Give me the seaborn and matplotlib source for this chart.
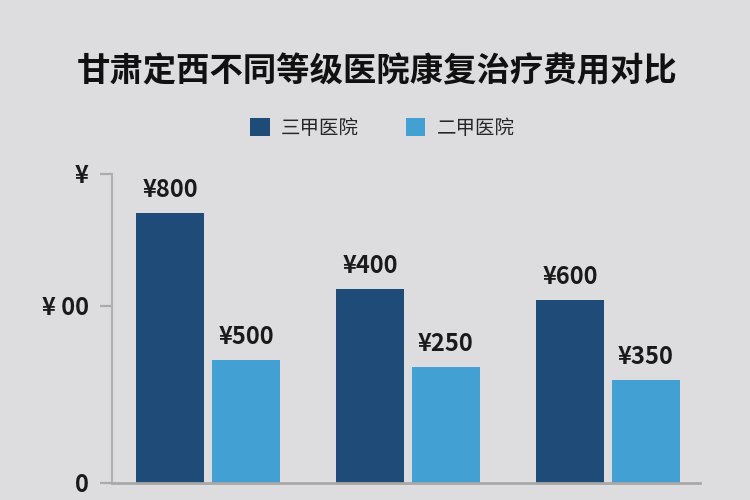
import matplotlib
matplotlib.use("Agg")
import matplotlib.pyplot as plt
import seaborn as sns
import pandas as pd

# data (bar heights in axis units, mid tick = 500)
groups = ["组1", "组2", "组3"]
grades = ["三甲医院", "二甲医院"]
heights_sanjia = [763, 548, 517]
heights_erjia = [347, 328, 291]
labels_sanjia = ["¥800", "¥400", "¥600"]
labels_erjia = ["¥500", "¥250", "¥350"]
ytick_pos = [0, 500, 873]
ytick_labels = ["0", "¥ 00", "¥"]
title = "甘肃定西不同等级医院康复治疗费用对比"

colors = {"三甲医院": "#1f4b78", "二甲医院": "#42a0d2"}
bg = "#dddddf"

df = pd.DataFrame({
    "group": groups * 2,
    "grade": [grades[0]] * 3 + [grades[1]] * 3,
    "value": heights_sanjia + heights_erjia,
    "label": labels_sanjia + labels_erjia,
})

sns.set_style("white")
plt.rcParams["font.family"] = ["Noto Sans CJK SC", "DejaVu Sans"]

fig = plt.figure(figsize=(7.5, 5), dpi=100, facecolor=bg)
ax = fig.add_axes([112 / 750, 17 / 500, 588 / 750, 323 / 500])
ax.set_facecolor(bg)

sns.barplot(data=df, x="group", y="value", hue="grade", order=groups,
            hue_order=grades, palette=colors, width=0.76, gap=0.1,
            saturation=1, linewidth=0, edgecolor="none", ax=ax, legend=True)

# value labels above bars
for cont, grade in zip(ax.containers, grades):
    labs = df[df["grade"] == grade]["label"].tolist()
    for bar, lab in zip(cont, labs):
        ax.annotate(lab, (bar.get_x() + bar.get_width() / 2, bar.get_height()),
                    xytext=(0, 16.5), textcoords="offset points",
                    ha="center", va="center", fontsize=17, fontweight="bold",
                    color="#1a1a1a")

ax.set_xlim(-0.48, 2.46)
ax.set_ylim(0, 912)
ax.set_xlabel("")
ax.set_ylabel("")
ax.set_xticks([])
ax.set_yticks(ytick_pos)
ax.set_yticklabels(ytick_labels, fontsize=17, fontweight="bold", color="#1a1a1a")
ax.tick_params(axis="y", length=8.6, width=1.6, color="#aaaaaa", pad=8, left=True)

for s in ["top", "right"]:
    ax.spines[s].set_visible(False)
ax.spines["left"].set_bounds(0, 873)
ax.spines["left"].set_color("#b0b0b0")
ax.spines["left"].set_linewidth(1.5)
ax.spines["bottom"].set_color("#a8a8a8")
ax.spines["bottom"].set_linewidth(2)

handles, labels = ax.get_legend_handles_labels()
ax.get_legend().remove()
fig.legend(handles, labels, loc="center", bbox_to_anchor=(0.51, 1 - 128 / 500),
           ncol=2, frameon=False, prop={"size": 14, "weight": "medium"},
           handlelength=1.0, handleheight=1.0,
           handletextpad=0.6, columnspacing=2.4)

fig.text(0.503, 1 - 72 / 500, title, ha="center", va="center",
         fontsize=24, fontweight="bold", color="#111111")

fig.savefig("out.png", dpi=100, facecolor=bg)
